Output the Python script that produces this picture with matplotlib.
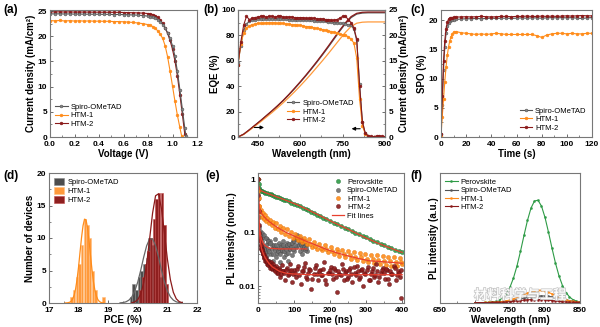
"""Six-panel device figure: J-V, EQE, SPO, PCE histogram, TRPL, steady-state PL."""

import matplotlib

matplotlib.use("Agg")
import matplotlib.patheffects as pe  # noqa: E402
import matplotlib.pyplot as plt  # noqa: E402
from matplotlib.ticker import AutoMinorLocator, NullFormatter  # noqa: E402

GREY = "#555555"
ORANGE = "#ff8c1a"
DARKRED = "#8b1a1a"
GREEN = "#2e9b46"
FITRED = "#e8402e"

# ---- (a) J-V curves ----------------------------------------------------------
V_SPIRO = [0.00, 0.04, 0.08, 0.12, 0.16, 0.20, 0.24, 0.28, 0.32, 0.36, 0.40, 0.44, 0.48,
           0.52, 0.56, 0.60, 0.64, 0.68, 0.72, 0.76, 0.80, 0.82, 0.84, 0.86, 0.88, 0.90,
           0.92, 0.94, 0.96, 0.98, 1.00, 1.02, 1.04, 1.06, 1.08, 1.10, 1.11]
J_SPIRO = [24.45, 24.42, 24.45, 24.40, 24.43, 24.38, 24.41, 24.36, 24.38, 24.35,
           24.37, 24.33, 24.35, 24.30, 24.32, 24.28, 24.25, 24.22, 24.17, 24.10,
           23.98, 23.90, 23.75, 23.55, 23.25, 22.85, 22.30, 21.60, 20.70, 19.60,
           18.10, 16.00, 13.00, 9.40, 5.60, 1.80, 0.20]
V_HTM2 = [0.00, 0.04, 0.08, 0.12, 0.16, 0.20, 0.24, 0.28, 0.32, 0.36, 0.40, 0.44, 0.48,
          0.52, 0.56, 0.60, 0.64, 0.68, 0.72, 0.76, 0.80, 0.82, 0.84, 0.86, 0.88, 0.90,
          0.92, 0.94, 0.96, 0.98, 1.00, 1.02, 1.04, 1.06, 1.08, 1.10]
J_HTM2 = [24.85, 24.82, 24.84, 24.80, 24.83, 24.79, 24.81, 24.78, 24.80, 24.76,
          24.78, 24.75, 24.76, 24.73, 24.74, 24.70, 24.68, 24.66, 24.62, 24.58,
          24.50, 24.42, 24.30, 24.08, 23.75, 23.25, 22.55, 21.65, 20.55, 19.15,
          17.40, 15.10, 12.10, 8.40, 4.60, 0.60]
V_HTM1 = [0.00, 0.04, 0.08, 0.12, 0.16, 0.20, 0.24, 0.28, 0.32, 0.36, 0.40, 0.44, 0.48,
          0.52, 0.56, 0.60, 0.64, 0.68, 0.72, 0.76, 0.80, 0.82, 0.84, 0.86, 0.88, 0.90,
          0.92, 0.94, 0.96, 0.98, 1.00, 1.02, 1.04, 1.06, 1.075]
J_HTM1 = [23.10, 23.05, 23.12, 23.02, 23.08, 23.01, 23.06, 22.99, 23.04, 22.97,
          23.00, 22.95, 22.97, 22.90, 22.91, 22.86, 22.80, 22.72, 22.62, 22.48,
          22.30, 22.15, 21.90, 21.55, 21.05, 20.40, 19.55, 18.10, 15.90, 13.10,
          10.10, 7.10, 4.30, 1.90, 0.15]

# ---- (b) EQE and integrated current -------------------------------------------
WL_EQE = [380, 390, 400, 410, 420, 430, 440, 450, 460, 470,
          480, 490, 500, 510, 520, 530, 540, 550, 560, 570,
          580, 590, 600, 610, 620, 630, 640, 650, 660, 670,
          680, 690, 700, 710, 720, 730, 740, 750, 760, 770,
          780, 790, 800, 810, 820, 830, 840, 850, 860, 870,
          880, 890, 900]
EQE_SPIRO = [58, 72, 84, 89, 91, 92, 92.5, 93, 93, 93,
             93, 93, 93, 93, 93, 93, 93, 93, 92.5, 92.5,
             92.5, 92.5, 92.5, 92, 92, 92, 92, 91.5, 91.5, 91.5,
             91, 91, 90.5, 90.5, 90, 90, 89.5, 89.5, 89, 88.5,
             88, 85, 76, 42, 12, 3, 1, 0.3, 0.2, 0.3,
             0.3, 0.2, 0.2]
EQE_HTM1 = [57, 73, 82, 86, 87.5, 88.5, 89, 89.5, 89.5, 89.5,
            90, 90, 90, 90, 89.5, 89.5, 89.5, 89, 89, 88.5,
            88.5, 88, 88, 87.5, 87, 87, 86.5, 86, 85.5, 85,
            84.5, 84, 83.5, 83, 82.5, 82, 81, 80.5, 80, 79,
            77, 74, 62, 30, 9, 2.5, 0.6, 0.2, 0.2, 0.2,
            0.2, 0.2, 0.2]
EQE_HTM2 = [57, 75, 88, 95, 92.5, 93.5, 94, 94.5, 95, 95,
            94.5, 95, 95, 94.5, 95, 95, 94.5, 94.5, 94.5, 94.5,
            94, 94, 94, 94, 93.5, 93.5, 93.5, 93.5, 93, 93,
            93, 92.5, 92.5, 92, 92, 92.5, 93.5, 95, 95, 92.5,
            90, 86, 77, 40, 12, 3, 1, 0.4, 0.3, 0.8,
            1.0, 0.6, 0.2]
WL_INT = [380, 400, 420, 440, 460, 480, 500, 520, 540, 560,
          580, 600, 620, 640, 660, 680, 700, 720, 740, 760,
          780, 800, 820, 840, 860, 880, 900]
JINT_SPIRO = [0, 0.55, 1.4, 2.3, 3.2, 4.15, 5.1, 6.1, 7.15, 8.3,
              9.5, 10.75, 12.05, 13.4, 14.8, 16.25, 17.75, 19.3, 20.85, 22.3,
              23.5, 24.2, 24.4, 24.45, 24.45, 24.45, 24.45]
JINT_HTM1 = [0, 0.5, 1.3, 2.15, 3.0, 3.9, 4.8, 5.75, 6.75, 7.8,
             8.9, 10.05, 11.25, 12.5, 13.8, 15.1, 16.45, 17.85, 19.25, 20.6,
             21.75, 22.4, 22.6, 22.65, 22.65, 22.65, 22.65]
JINT_HTM2 = [0, 0.56, 1.42, 2.33, 3.24, 4.2, 5.16, 6.17, 7.23, 8.38,
             9.6, 10.86, 12.17, 13.54, 14.95, 16.42, 17.94, 19.5, 21.05, 22.5,
             23.7, 24.35, 24.55, 24.6, 24.6, 24.6, 24.6]

# ---- (c) stabilised power output ----------------------------------------------
T_SPO = [0, 1, 2, 3, 4, 5, 6, 7, 8, 9, 10, 12, 16, 20, 24, 28, 32, 36, 40, 44, 48, 52,
         56, 60, 64, 68, 72, 76, 80, 84, 88, 92, 96, 100, 104, 108, 112, 116, 120]
SPO_SPIRO = [0.5, 5.5, 11.5, 15.5, 17.8, 19.0, 19.6, 19.9, 20.0, 20.1, 20.1,
             20.2, 20.25, 20.3, 20.3, 20.35, 20.3, 20.35, 20.4, 20.35, 20.4,
             20.4, 20.35, 20.4, 20.45, 20.4, 20.45, 20.45, 20.4, 20.45, 20.5,
             20.45, 20.5, 20.45, 20.5, 20.4, 20.35, 20.45, 20.5]
SPO_HTM1 = [0.2, 3.5, 6.5, 9.5, 12, 14, 15.5, 16.5, 17.2, 17.7, 18.0,
            18.1, 17.9, 17.8, 17.7, 17.6, 17.7, 17.6, 17.7, 17.8, 17.7,
            17.6, 17.6, 17.6, 17.6, 17.6, 17.6, 17.4, 17.1, 17.5, 17.7,
            17.8, 17.8, 17.7, 17.8, 17.7, 17.7, 17.8, 17.8]
SPO_HTM2 = [0.5, 7, 13, 16.5, 18.6, 19.7, 20.2, 20.4, 20.5, 20.5, 20.55,
            20.6, 20.6, 20.65, 20.6, 20.65, 20.7, 20.65, 20.6, 20.65, 20.7,
            20.7, 20.65, 20.7, 20.7, 20.75, 20.7, 20.7, 20.75, 20.7, 20.75,
            20.7, 20.75, 20.8, 20.75, 20.8, 20.85, 20.8, 20.8]

# ---- (d) PCE histograms --------------------------------------------------------
PCE_HTM1 = [17.76, 17.85, 17.94, 18.03, 18.12, 18.21, 18.30, 18.39, 18.48, 18.57, 18.84]
N_HTM1 = [1, 2, 4, 6, 9, 13, 12, 10, 5, 2, 1]
PCE_SPIRO = [19.77, 19.86, 19.95, 20.04, 20.13, 20.22, 20.31, 20.40, 20.49, 20.58, 20.67, 20.76]
N_SPIRO = [1, 3, 2, 4, 5, 6, 7, 10, 9, 8, 7, 4]
PCE_HTM2 = [20.09, 20.18, 20.27, 20.36, 20.45, 20.54, 20.63, 20.72, 20.81, 20.90, 20.99]
N_HTM2 = [2, 4, 6, 8, 10, 13, 16, 17, 17, 12, 3]
FIT_X_HTM1 = [17.55, 17.60, 17.65, 17.70, 17.75, 17.80, 17.85, 17.90, 17.95, 18.00,
              18.05, 18.10, 18.15, 18.20, 18.25, 18.30, 18.35, 18.40, 18.45, 18.50,
              18.55, 18.60, 18.65, 18.70, 18.75, 18.80, 18.85]
FIT_Y_HTM1 = [0.01, 0.02, 0.05, 0.12, 0.28, 0.62, 1.22, 2.2, 3.69, 5.6,
              7.89, 10.1, 11.9, 12.9, 12.8, 11.6, 9.7, 7.4, 5.2, 3.3,
              1.98, 1.07, 0.53, 0.24, 0.1, 0.04, 0.01]
FIT_X_SPIRO = [19.4, 19.5, 19.6, 19.7, 19.8, 19.9, 20.0, 20.1, 20.2, 20.3, 20.4,
               20.5, 20.6, 20.7, 20.8, 20.9, 21.0, 21.1, 21.2, 21.3, 21.4, 21.5]
FIT_Y_SPIRO = [0.02, 0.07, 0.18, 0.44, 0.95, 1.86, 3.25, 5.06, 7.07, 8.82, 9.86,
               9.86, 8.82, 7.07, 5.06, 3.25, 1.86, 0.95, 0.44, 0.18, 0.07, 0.02]
FIT_X_HTM2 = [19.8, 19.9, 20.0, 20.1, 20.2, 20.3, 20.4, 20.5, 20.6, 20.7,
              20.8, 20.9, 21.0, 21.1, 21.2, 21.3, 21.4, 21.5]
FIT_Y_HTM2 = [0.05, 0.17, 0.52, 1.38, 3.13, 6.03, 9.9, 13.85, 16.5, 16.8,
              14.5, 10.7, 6.74, 3.6, 1.65, 0.64, 0.21, 0.06]

# ---- (e) time-resolved PL ------------------------------------------------------
T_PSK = [0, 2, 4, 6, 8, 12, 16, 20, 25, 30, 35, 40, 45, 50, 55, 60, 66, 72, 78, 85,
         92, 100, 108, 116, 124, 132, 140, 148, 156, 164, 172, 180, 190, 200, 210,
         220, 230, 240, 250, 260, 270, 280, 290, 300, 310, 320, 330, 340, 350, 360,
         370, 380, 390, 400]
PL_PSK = [1.0, 0.8, 0.69, 0.64, 0.61, 0.6, 0.57, 0.56, 0.54, 0.53,
          0.52, 0.5, 0.49, 0.47, 0.46, 0.445, 0.43, 0.41, 0.4, 0.385,
          0.365, 0.345, 0.325, 0.31, 0.29, 0.275, 0.26, 0.245, 0.232, 0.218,
          0.205, 0.192, 0.178, 0.165, 0.155, 0.143, 0.134, 0.125, 0.117, 0.109,
          0.101, 0.094, 0.088, 0.082, 0.076, 0.071, 0.066, 0.062, 0.058, 0.054,
          0.051, 0.048, 0.045, 0.043]
T_SPIRO_PL = [0, 1, 2, 3, 4, 5, 6, 7, 8, 9, 10, 12, 14, 16, 18, 20, 22, 24, 26, 28, 30,
              33, 36, 39, 42, 45, 48, 51, 54, 57, 60, 63, 66, 69, 72, 75, 78, 81, 84,
              87, 90, 93, 96, 99, 102, 105, 108, 111, 114, 117, 120, 123, 126, 129,
              132, 135,
              11, 13, 15, 17, 19, 21, 23, 25, 27, 29,
              31.5, 34.5, 37.5, 40.5, 43.5, 46.5, 49.5, 52.5, 55.5, 58.5,
              61.5, 64.5, 67.5, 70.5, 73.5, 76.5, 79.5, 82.5, 85.5, 88.5,
              91.5, 94.5, 97.5, 100.5, 103.5, 106.5, 109.5, 112.5, 115.5, 118.5,
              121.5, 124.5, 127.5, 130.5, 133.5]
PL_SPIRO = [1.0, 0.42, 0.2, 0.13, 0.1, 0.085, 0.11, 0.075, 0.095, 0.06, 0.1,
            0.05, 0.085, 0.04, 0.09, 0.055, 0.035, 0.075, 0.045, 0.065, 0.03,
            0.07, 0.04, 0.06, 0.03, 0.055, 0.075, 0.035, 0.05, 0.065, 0.028,
            0.06, 0.045, 0.07, 0.035, 0.055, 0.04, 0.065, 0.03, 0.05, 0.06,
            0.038, 0.07, 0.045, 0.08, 0.055, 0.09, 0.06, 0.085, 0.045, 0.075,
            0.04, 0.065, 0.05, 0.06, 0.045,
            0.07, 0.045, 0.06, 0.05, 0.042, 0.08, 0.06, 0.038, 0.05, 0.07,
            0.045, 0.065, 0.05, 0.04, 0.06, 0.048, 0.058, 0.042, 0.046, 0.052,
            0.04, 0.055, 0.048, 0.06, 0.045, 0.05, 0.058, 0.042, 0.062, 0.05,
            0.055, 0.065, 0.05, 0.07, 0.06, 0.075, 0.08, 0.07, 0.065, 0.06,
            0.055, 0.05, 0.055, 0.048, 0.052]
T_HTM1_PL = [0, 1, 2, 3, 4, 6, 8, 10, 13, 16, 19, 22, 26, 30, 34, 38, 42, 46, 50,
             55, 60, 65, 70, 75, 80, 86, 92, 98, 104, 110, 116, 122, 128, 135, 142,
             149, 156, 163, 170, 178, 186, 194, 202, 210, 218, 226, 234, 242, 250,
             258, 266, 274, 282, 290, 298, 306, 314, 322, 330, 338, 346, 354, 362,
             370, 378, 386, 394, 400,
             107, 119, 131.5, 145.5, 159.5, 174, 190, 206, 222, 238,
             254, 270, 286, 302, 318, 334, 350, 366, 382, 398]
PL_HTM1 = [1.0, 0.6, 0.44, 0.32, 0.31, 0.24, 0.26, 0.2, 0.23, 0.18,
           0.21, 0.165, 0.19, 0.15, 0.175, 0.14, 0.16, 0.125, 0.15, 0.115,
           0.135, 0.105, 0.125, 0.095, 0.115, 0.087, 0.105, 0.08, 0.095, 0.072,
           0.088, 0.066, 0.08, 0.061, 0.075, 0.055, 0.068, 0.05, 0.063, 0.047,
           0.058, 0.044, 0.054, 0.04, 0.05, 0.037, 0.047, 0.035, 0.045, 0.033,
           0.043, 0.031, 0.042, 0.03, 0.04, 0.028, 0.039, 0.027, 0.038, 0.026,
           0.037, 0.025, 0.036, 0.024, 0.036, 0.024, 0.034, 0.026,
           0.085, 0.073, 0.07, 0.062, 0.057, 0.053, 0.05, 0.045, 0.043, 0.04,
           0.038, 0.036, 0.035, 0.033, 0.032, 0.031, 0.03, 0.03, 0.029, 0.029]
T_HTM2_PL = [0, 1, 2, 3, 4, 5, 6, 8, 10, 12, 14, 16, 18, 20, 23, 26, 29, 32, 35, 38,
             42, 46, 50, 54, 58, 62, 66, 70, 75, 80, 85, 90, 95, 100,
             106, 112, 118, 124, 130, 136, 142, 148, 154, 160, 166, 172, 178, 184,
             190, 196, 202, 208, 214, 220, 226, 232, 238, 244, 250, 256, 262, 268,
             274, 280, 286, 292, 298, 304, 310, 316, 322, 328, 334, 340, 346, 352,
             358, 364, 370, 376, 382, 388, 394, 398,
             7, 9, 11, 13, 15, 17, 19, 21.5, 24.5, 27.5,
             30.5, 33.5, 36.5, 40, 44, 48, 52, 56, 60, 64,
             68, 72.5, 77.5, 82.5, 87.5, 92.5, 97.5,
             103, 109, 115, 121, 127, 133, 139, 145, 151, 157,
             163, 169, 175, 181, 187, 193, 199, 205, 211, 217,
             223, 229, 235, 241, 247, 253, 259, 265, 271, 277,
             283, 289, 295, 301, 307, 313, 319, 325, 331, 337,
             343, 349, 355, 361, 367, 373, 379, 385, 391, 397]
PL_HTM2 = [1.0, 0.5, 0.25, 0.14, 0.1, 0.08, 0.07, 0.055, 0.05, 0.045,
           0.04, 0.035, 0.038, 0.03, 0.033, 0.026, 0.03, 0.024, 0.028, 0.021,
           0.026, 0.02, 0.024, 0.018, 0.022, 0.015, 0.025, 0.019, 0.013, 0.022,
           0.017, 0.026, 0.012, 0.02,
           0.015, 0.024, 0.011, 0.019, 0.027, 0.014, 0.021, 0.009, 0.017, 0.025,
           0.013, 0.02, 0.016, 0.028, 0.011, 0.018, 0.023, 0.014, 0.02, 0.008,
           0.017, 0.026, 0.013, 0.019, 0.015, 0.022, 0.012, 0.018, 0.024, 0.014,
           0.02, 0.01, 0.017, 0.023, 0.013, 0.019, 0.015, 0.026, 0.012, 0.018,
           0.022, 0.014, 0.02, 0.011, 0.017, 0.024, 0.013, 0.019, 0.015, 0.006,
           0.06, 0.05, 0.048, 0.04, 0.042, 0.034, 0.036, 0.03, 0.028, 0.025,
           0.027, 0.022, 0.025, 0.022, 0.023, 0.019, 0.021, 0.018, 0.02, 0.017,
           0.019, 0.018, 0.02, 0.016, 0.019, 0.02, 0.017,
           0.018, 0.021, 0.016, 0.019, 0.023, 0.015, 0.018, 0.02, 0.014, 0.022,
           0.017, 0.019, 0.016, 0.021, 0.013, 0.018, 0.02, 0.017, 0.022, 0.015,
           0.019, 0.016, 0.021, 0.018, 0.014, 0.02, 0.017, 0.023, 0.016, 0.019,
           0.015, 0.021, 0.018, 0.02, 0.013, 0.017, 0.022, 0.016, 0.019, 0.015,
           0.02, 0.018, 0.021, 0.014, 0.019, 0.017, 0.022, 0.016, 0.018, 0.02]
FIT_T_PSK = [0, 2, 5, 10, 20, 40, 60, 85, 110, 140, 177, 210, 240, 270, 300, 330,
             360, 380, 400]
FIT_PSK = [1.0, 0.75, 0.64, 0.6, 0.56, 0.5, 0.445, 0.385, 0.33, 0.265, 0.2, 0.155,
           0.125, 0.1, 0.08, 0.065, 0.054, 0.048, 0.043]
FIT_T_SPIRO = [0, 1, 2, 4, 7, 10, 15, 20, 30, 40, 60, 135]
FIT_SPIRO = [1.0, 0.5, 0.25, 0.13, 0.09, 0.075, 0.063, 0.057, 0.052, 0.051, 0.05, 0.05]
FIT_T_HTM1 = [0, 1, 2, 4, 8, 15, 25, 40, 60, 80, 100, 130, 160, 190, 220, 250, 280,
              310, 340, 370, 400]
FIT_HTM1 = [1.0, 0.6, 0.42, 0.3, 0.24, 0.205, 0.175, 0.145, 0.118, 0.1, 0.087, 0.071,
            0.059, 0.049, 0.042, 0.037, 0.033, 0.03, 0.029, 0.028, 0.027]
FIT_T_HTM2 = [0, 1, 2, 4, 7, 10, 15, 20, 30, 40, 60, 80, 100, 150, 400]
FIT_HTM2 = [1.0, 0.4, 0.2, 0.1, 0.065, 0.05, 0.04, 0.034, 0.027, 0.023, 0.019, 0.0175,
            0.017, 0.0165, 0.0165]

# ---- (f) steady-state PL -------------------------------------------------------
WL_PL = [700, 705, 710, 715, 720, 725, 730, 735, 740, 745, 750, 755, 760, 765, 770,
         775, 780, 785, 790, 795, 800, 805, 810, 815, 820, 825, 830, 835, 840, 845, 850]
SPEC_PSK = [0.0, 0.0001, 0.0003, 0.0009, 0.0023, 0.0054, 0.012, 0.025, 0.048, 0.088,
            0.15, 0.24, 0.357, 0.499, 0.653, 0.80, 0.919, 0.988, 0.995, 0.938,
            0.828, 0.684, 0.529, 0.383, 0.26, 0.165, 0.098, 0.055, 0.028, 0.014, 0.006]
SPEC_SPIRO = [0, 0, 0, 0, 0.001, 0.002, 0.003, 0.005, 0.008, 0.012,
              0.017, 0.023, 0.03, 0.037, 0.044, 0.051, 0.057, 0.061, 0.064, 0.065,
              0.064, 0.061, 0.056, 0.05, 0.043, 0.035, 0.027, 0.02, 0.014, 0.009, 0.006]
SPEC_HTM1 = [0, 0, 0, 0.001, 0.002, 0.003, 0.005, 0.008, 0.012, 0.018,
             0.026, 0.036, 0.048, 0.062, 0.077, 0.092, 0.105, 0.114, 0.119, 0.118,
             0.111, 0.099, 0.085, 0.069, 0.053, 0.039, 0.027, 0.018, 0.011, 0.007, 0.004]
SPEC_HTM2 = [0, 0, 0, 0, 0, 0.001, 0.002, 0.003, 0.004, 0.006,
             0.009, 0.012, 0.016, 0.02, 0.024, 0.027, 0.029, 0.03, 0.03, 0.029,
             0.027, 0.024, 0.02, 0.016, 0.012, 0.009, 0.006, 0.004, 0.003, 0.002, 0.001]

W, H = 600, 327


def _rect(left, top, right, bottom):
    return [left / W, 1 - bottom / H, (right - left) / W, (bottom - top) / H]


def _style(ax, minor=True):
    ax.tick_params(direction="in", length=2, width=0.6, labelsize=6, color="#555555")
    ax.tick_params(axis="x", pad=2.8)
    ax.tick_params(axis="y", pad=2.0)
    ax.tick_params(which="minor", direction="in", length=1.2, width=0.5, color="#555555")
    for s in ax.spines.values():
        s.set_linewidth(0.8)
        s.set_color("#777777")
    if minor:
        ax.xaxis.set_minor_locator(AutoMinorLocator(2))
        ax.yaxis.set_minor_locator(AutoMinorLocator(2))


def _legend(ax, **kw):
    leg = ax.legend(frameon=False, fontsize=5.5, handlelength=1.6, labelspacing=0.15,
                    handletextpad=0.4, borderaxespad=0.3, **kw)
    for t in leg.get_texts():
        t.set_fontweight("normal")
    return leg


def main() -> None:
    plt.rcParams["font.family"] = ["Liberation Sans", "DejaVu Sans"]
    plt.rcParams["font.weight"] = "bold"
    plt.rcParams["axes.labelweight"] = "bold"
    plt.rcParams["axes.labelsize"] = 7
    plt.rcParams["axes.labelpad"] = 1

    fig = plt.figure(figsize=(6.0, 3.27), dpi=100)
    mk = dict(marker="o", ms=2.0, lw=0.8, mew=0.4)

    # (a) J-V
    ax = fig.add_axes(_rect(50, 10, 197, 137))
    ax.plot(V_SPIRO, J_SPIRO, color=GREY, mfc="#888888", label="Spiro-OMeTAD", **mk)
    ax.plot(V_HTM1, J_HTM1, color=ORANGE, label="HTM-1", **mk)
    ax.plot(V_HTM2, J_HTM2, color=DARKRED, label="HTM-2", zorder=1, **mk)
    ax.set_xlim(0, 1.2)
    ax.set_ylim(0, 25.2)
    ax.set_xticks([0.0, 0.2, 0.4, 0.6, 0.8, 1.0, 1.2])
    ax.set_yticks([0, 5, 10, 15, 20, 25])
    ax.set_xlabel("Voltage (V)")
    ax.set_ylabel("Current density (mA/cm²)")
    _style(ax)
    _legend(ax, loc="lower left", bbox_to_anchor=(0.0, 0.03))

    # (b) EQE + integrated Jsc
    ax = fig.add_axes(_rect(238, 10, 385, 137))
    ax2 = ax.twinx()
    ax2.plot(WL_INT, JINT_SPIRO, color=GREY, lw=0.9)
    ax2.plot(WL_INT, JINT_HTM1, color="#ff9a3c", lw=0.9)
    ax2.plot(WL_INT, JINT_HTM2, color=DARKRED, lw=0.9)
    ax.plot(WL_EQE, EQE_SPIRO, color=GREY, mfc="#888888", label="Spiro-OMeTAD", **mk)
    ax.plot(WL_EQE, EQE_HTM1, color=ORANGE, label="HTM-1", **mk)
    ax.plot(WL_EQE, EQE_HTM2, color=DARKRED, label="HTM-2", **mk)
    ax.set_zorder(ax2.get_zorder() + 1)
    ax.patch.set_visible(False)
    ax.set_xlim(380, 900)
    ax.set_ylim(0, 100)
    ax2.set_ylim(0, 25)
    ax.set_xticks([450, 600, 750, 900])
    ax.set_yticks([0, 20, 40, 60, 80, 100])
    ax2.set_yticks([0, 5, 10, 15, 20, 25])
    ax.set_xlabel("Wavelength (nm)")
    ax.set_ylabel("EQE (%)")
    ax2.set_ylabel("Current density (mA/cm²)")
    _style(ax)
    _style(ax2)
    ax2.tick_params(axis="y", pad=2.5)
    ax.annotate("", xy=(482, 7.5), xytext=(428, 7.5),
                arrowprops=dict(arrowstyle="-|>", color="black", lw=0.8, mutation_scale=5))
    ax.annotate("", xy=(772, 6.5), xytext=(822, 6.5),
                arrowprops=dict(arrowstyle="-|>", color="black", lw=0.8, mutation_scale=5))
    _legend(ax, loc="lower center", bbox_to_anchor=(0.56, 0.06))

    # (c) SPO
    ax = fig.add_axes(_rect(441, 10, 592, 137))
    ax.plot(T_SPO, SPO_SPIRO, color=GREY, mfc="#888888", label="Spiro-OMeTAD", **mk)
    ax.plot(T_SPO, SPO_HTM1, color=ORANGE, label="HTM-1", **mk)
    ax.plot(T_SPO, SPO_HTM2, color=DARKRED, label="HTM-2", **mk)
    ax.set_xlim(0, 120)
    ax.set_ylim(0, 21.8)
    ax.set_xticks([0, 20, 40, 60, 80, 100, 120])
    ax.set_yticks([0, 5, 10, 15, 20])
    ax.set_xlabel("Time (s)")
    ax.set_ylabel("SPO (%)")
    _style(ax)
    _legend(ax, loc="lower right")

    # (d) PCE histogram
    ax = fig.add_axes(_rect(49, 173, 197, 303))
    ax.bar(PCE_HTM1, N_HTM1, width=0.085, color="#ff9a3c", edgecolor="#ffbe80",
           lw=0.4, label="HTM-1", zorder=2)
    ax.bar(PCE_SPIRO, N_SPIRO, width=0.085, color="#4d4d4d", edgecolor="#8a8a8a",
           lw=0.4, label="Spiro-OMeTAD", zorder=2)
    ax.bar(PCE_HTM2, N_HTM2, width=0.085, color="#8e1f1f", edgecolor="#c04a4a",
           lw=0.4, label="HTM-2", zorder=3)
    ax.plot(FIT_X_HTM1, FIT_Y_HTM1, color=ORANGE, lw=0.9, zorder=4)
    ax.plot(FIT_X_SPIRO, FIT_Y_SPIRO, color="#666666", lw=0.9, zorder=4)
    ax.plot(FIT_X_HTM2, FIT_Y_HTM2, color=DARKRED, lw=0.9, zorder=4)
    ax.set_xlim(17, 22)
    ax.set_ylim(0, 20)
    ax.set_xticks([17, 18, 19, 20, 21, 22])
    ax.set_yticks([0, 5, 10, 15, 20])
    ax.set_xlabel("PCE (%)")
    ax.set_ylabel("Number of devices")
    _style(ax)
    h, lab = ax.get_legend_handles_labels()
    order = [1, 0, 2]
    leg = ax.legend([h[i] for i in order], [lab[i] for i in order], frameon=False,
                    fontsize=5.5, handlelength=1.3, handleheight=0.9, labelspacing=0.15,
                    handletextpad=0.4, borderaxespad=0.3, loc="upper left")
    for t in leg.get_texts():
        t.set_fontweight("normal")

    # (e) TRPL
    ax = fig.add_axes(_rect(258, 173, 404, 303))
    sc = dict(marker="o", ls="none", ms=3.0, mew=0.3, alpha=0.9)
    ax.plot(T_PSK, PL_PSK, color=GREEN, mec="#1d6e30", label="Perovskite", **sc)
    ax.plot(T_SPIRO_PL, PL_SPIRO, color="#6e6e6e", mec="#444444", label="Spiro-OMeTAD", **sc)
    ax.plot(T_HTM1_PL, PL_HTM1, color=ORANGE, mec="#e07000", label="HTM-1", **sc)
    ax.plot(T_HTM2_PL, PL_HTM2, color=DARKRED, mec="#5e0f0f", label="HTM-2", **sc)
    ax.plot(FIT_T_PSK, FIT_PSK, color=FITRED, lw=0.9, label="Fit lines")
    ax.plot(FIT_T_SPIRO, FIT_SPIRO, color=FITRED, lw=0.9)
    ax.plot(FIT_T_HTM1, FIT_HTM1, color=FITRED, lw=0.9)
    ax.plot(FIT_T_HTM2, FIT_HTM2, color=FITRED, lw=0.9)
    ax.set_yscale("log")
    ax.set_xlim(0, 405)
    ax.set_ylim(0.0049, 1.3)
    ax.set_xticks([0, 100, 200, 300, 400])
    ax.set_yticks([0.01, 0.1, 1])
    ax.set_yticklabels(["0.01", "0.1", "1"])
    ax.yaxis.set_minor_formatter(NullFormatter())
    ax.set_xlabel("Time (ns)")
    ax.set_ylabel("PL intensity (norm.)")
    _style(ax, minor=False)
    ax.xaxis.set_minor_locator(AutoMinorLocator(2))
    _legend(ax, loc="upper right", markerscale=1.0)

    # (f) steady-state PL
    ax = fig.add_axes(_rect(440, 173, 580, 303))
    mf = dict(marker="o", ms=1.5, lw=0.8, mew=0.3)
    ax.plot(WL_PL, SPEC_PSK, color=GREEN, label="Perovskite", **mf)
    ax.plot(WL_PL, SPEC_SPIRO, color=GREY, label="Spiro-OMeTAD", **mf)
    ax.plot(WL_PL, SPEC_HTM1, color=ORANGE, label="HTM-1", **mf)
    ax.plot(WL_PL, SPEC_HTM2, color=DARKRED, label="HTM-2", **mf)
    ax.set_xlim(650, 850)
    ax.set_ylim(-0.004, 1.26)
    ax.set_xticks([650, 700, 750, 800, 850])
    ax.set_yticks([])
    ax.set_xlabel("Wavelength (nm)")
    ax.set_ylabel("PL intensity (a.u.)")
    _style(ax, minor=False)
    ax.xaxis.set_minor_locator(AutoMinorLocator(2))
    _legend(ax, loc="upper left")

    # panel letters
    for txt, x, y in [("(a)", 3, 4), ("(b)", 203, 4), ("(c)", 410, 4),
                      ("(d)", 3, 170), ("(e)", 205, 170), ("(f)", 410, 170)]:
        fig.text(x / W, 1 - y / H, txt, fontsize=8.5, fontweight="bold", va="top")

    # faint watermark inside the bottom of panel (f)
    fig.text(474 / W, 1 - 302 / H, "材料科学与工程", fontsize=9.5, color="white",
             family=["Noto Sans CJK SC", "DejaVu Sans"], va="bottom", alpha=0.9,
             path_effects=[pe.withStroke(linewidth=1.0, foreground="#bdbdbd")])

    fig.savefig("out.png", dpi=100)
    plt.close(fig)


if __name__ == "__main__":
    main()
